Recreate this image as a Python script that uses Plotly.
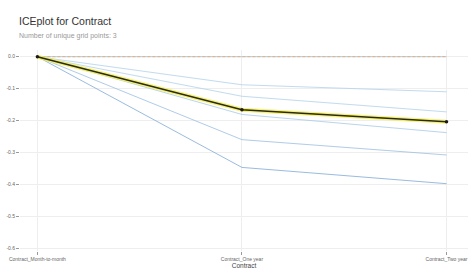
import plotly.graph_objects as go

categories = ["Contract_Month-to-month", "Contract_One year", "Contract_Two year"]
grid_x = [0, 1, 2]
ice_lines = [
    [0.0, 0.0, 0.0],
    [0.0, -0.088, -0.110],
    [0.0, -0.124, -0.173],
    [0.0, -0.181, -0.238],
    [0.0, -0.260, -0.308],
    [0.0, -0.347, -0.398],
]
ice_colors = ["#9ecae1", "#b3d3ec", "#b3d3ec", "#a9cbe8", "#9dc0e3", "#82abd9"]
pdp_mean = [0.0, -0.166, -0.204]
y_ticks = [0.0, -0.1, -0.2, -0.3, -0.4, -0.5, -0.6]

fig = go.Figure()
for vals, col in zip(ice_lines, ice_colors):
    fig.add_trace(go.Scatter(x=grid_x, y=vals, mode="lines",
                             line=dict(color=col, width=1), opacity=0.8,
                             hoverinfo="skip", showlegend=False))
fig.add_trace(go.Scatter(x=[grid_x[0], grid_x[-1]], y=[0, 0], mode="lines",
                         line=dict(color="#f2a46a", width=0.8, dash="3px,2px"),
                         showlegend=False))
fig.add_trace(go.Scatter(x=grid_x, y=pdp_mean, mode="lines",
                         line=dict(color="#f3ee55", width=4), opacity=0.8,
                         showlegend=False))
fig.add_trace(go.Scatter(x=grid_x, y=pdp_mean, mode="lines+markers",
                         line=dict(color="#2a2a10", width=1.5),
                         marker=dict(color="#1a1a1a", size=3.5),
                         showlegend=False))

fig.update_layout(
    width=474, height=271,
    margin=dict(l=20, r=6, t=50, b=20),
    paper_bgcolor="white", plot_bgcolor="white",
    font=dict(family="Liberation Sans, Arial, sans-serif", color="#555"),
    xaxis=dict(tickmode="array", tickvals=grid_x, ticktext=categories,
               range=[-0.085, 2.105], showgrid=True, gridcolor="#eeeeee",
               gridwidth=1, zeroline=False, ticks="outside", ticklen=3,
               tickcolor="#999", tickfont=dict(size=5, color="#666"),
               automargin=False,
               title=dict(text="Contract", font=dict(size=6.5, color="#444"),
                          standoff=2)),
    yaxis=dict(tickmode="array", tickvals=y_ticks,
               ticktext=["%.1f" % v for v in y_ticks],
               range=[-0.609, 0.021], showgrid=True, gridcolor="#eeeeee",
               zeroline=False, ticks="outside", ticklen=3, tickcolor="#999",
               automargin=False,
               tickfont=dict(size=5, color="#666")),
    annotations=[
        dict(text="ICEplot for Contract", xref="paper", yref="paper",
             x=-3 / 448, y=(251 - 21) / 201, xanchor="left", yanchor="middle",
             showarrow=False, font=dict(size=10.5, color="#333")),
        dict(text="Number of unique grid points: 3", xref="paper", yref="paper",
             x=-3 / 448, y=(251 - 35.5) / 201, xanchor="left", yanchor="middle",
             showarrow=False, font=dict(size=7, color="#999")),
    ],
)

fig.write_html("out.html")
